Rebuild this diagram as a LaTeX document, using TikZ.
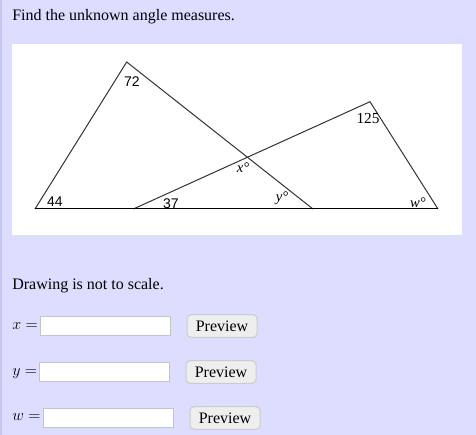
\documentclass[tikz,border=0pt]{standalone}
\usepackage{amsmath}
\usepackage{fontspec}
\setmainfont{Liberation Serif}
\newfontfamily\numfont{Liberation Sans}
\usepackage{xcolor}
\definecolor{pagebg}{HTML}{DDDDFF}
\definecolor{edgebg}{HTML}{C6C6EE}
\definecolor{fieldline}{HTML}{C4C4C4}
\definecolor{btnbg}{HTML}{EEEEEE}
\definecolor{btnline}{HTML}{CCCCCC}

\tikzset{
  txt/.style={inner sep=0pt, font=\fontsize{12}{14}\selectfont},
  side/.style={draw=black!80, line width=0.75pt},
  ang/.style={inner sep=0pt, font=\numfont\fontsize{10.5}{12}\selectfont},
  unk/.style={inner sep=0pt, font=\fontsize{11}{12}\selectfont\itshape},
  field/.style={draw=fieldline, fill=white, line width=0.75pt, minimum width=97.5pt, minimum height=14pt, inner sep=0pt},
  button/.style={draw=btnline, fill=btnbg, rounded corners=3pt, line width=0.75pt, minimum width=52.5pt, minimum height=17pt, inner sep=0pt, font=\fontsize{12}{14}\selectfont}
}

\begin{document}
\begin{tikzpicture}[x=0.75pt, y=-0.75pt]
  \useasboundingbox (0,0) rectangle (476,435);
  \fill[pagebg] (0,0) rectangle (476,435);
  \fill[edgebg] (0,0) rectangle (2,435);
  \fill[white] (12,44) rectangle (462,235);

  \node[txt, anchor=base west] (title) at (12,21) {Find the unknown angle measures.};

  % vertices
  \coordinate (A) at (35,209);    % 44
  \coordinate (B) at (126.7,62);  % 72
  \coordinate (C) at (313,209);
  \coordinate (D) at (133.3,209); % 37
  \coordinate (E) at (370,101.7); % 125
  \coordinate (F) at (438,209);   % w

  \draw[side] (A) -- (B) -- (C); % big triangle
  \draw[side] (D) -- (E) -- (F); % small triangle
  \draw[side, draw=black] (A) -- (F); % base

  \node[ang] (a72) at (132,81.5) {72};
  \node[ang] (a44) at (55,201.5) {44};
  \node[ang] (a37) at (171,203.5) {37};
  \node[inner sep=0pt, font=\fontsize{11.5}{12}\selectfont] (a125) at (368,118) {125};
  \node[unk] (ax) at (243,168) {x\textdegree};
  \node[unk] (ay) at (282,198.5) {y\textdegree};
  \node[unk] (aw) at (418,202.5) {w\textdegree};

  \node[txt, anchor=base west] (note) at (12,290) {Drawing is not to scale.};

  \node[txt, anchor=base west] (lx) at (12,329.5) {$x =$};
  \node[field] (fx) at (105,326) {};
  \node[button] (bx) at (222,326) {Preview};

  \node[txt, anchor=base west] (ly) at (12,376) {$y =$};
  \node[field] (fy) at (104,372) {};
  \node[button] (by) at (221,372) {Preview};

  \node[txt, anchor=base west] (lw) at (12,421) {$w =$};
  \node[field] (fw) at (108,418) {};
  \node[button] (bw) at (225,418) {Preview};
\end{tikzpicture}
\end{document}
